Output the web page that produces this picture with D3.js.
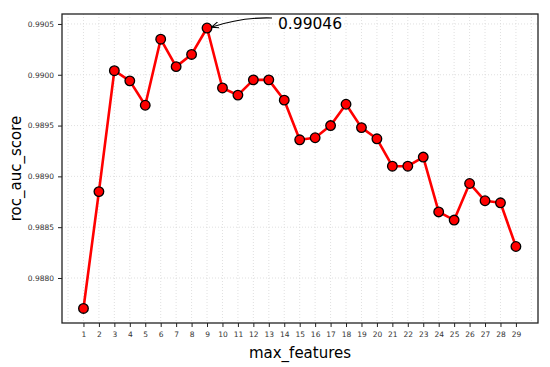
<!DOCTYPE html>
<html><head><meta charset="utf-8">
<script src="https://cdn.jsdelivr.net/npm/d3@7"></script>
<style>body{margin:0;background:#fff;} svg{display:block;}</style>
</head><body>
<script>
const maxFeatures = d3.range(1, 30);
const rocAucScore = [0.98770,0.98885,0.99004,0.98994,0.98970,0.99035,0.99008,0.99020,0.99046,0.98987,
  0.98980,0.98995,0.98995,0.98975,0.98936,0.98938,0.98950,0.98971,0.98948,0.98937,
  0.98910,0.98910,0.98919,0.98865,0.98857,0.98893,0.98876,0.98874,0.98831];
const yTicks = [0.9880,0.9885,0.9890,0.9895,0.9900,0.9905];
const annotationText = "0.99046";

const W=550,H=367;
const L=62,R=538,T=14,B=323;
const svg=d3.select("body").append("svg").attr("width",W).attr("height",H);
const x=d3.scaleLinear().domain([-0.39,30.43]).range([L,R]);
const y=d3.scaleLinear().domain([0.987557,0.990598]).range([B,T]);

// grid
const g=svg.append("g");
g.selectAll(".vg").data(d3.range(0,31)).enter().append("line")
 .attr("x1",d=>x(d)).attr("x2",d=>x(d)).attr("y1",T).attr("y2",B)
 .attr("stroke","#d8d8d8").attr("stroke-width",0.8).attr("stroke-dasharray","1,2");
g.selectAll(".hg").data(yTicks).enter().append("line")
 .attr("x1",L).attr("x2",R).attr("y1",d=>y(d)).attr("y2",d=>y(d))
 .attr("stroke","#d8d8d8").attr("stroke-width",0.8).attr("stroke-dasharray","1,2");

// axes
const xa=svg.append("g").attr("transform",`translate(0,${B})`)
 .call(d3.axisBottom(x).tickValues(maxFeatures).tickFormat(d3.format("d")).tickSize(4).tickPadding(5));
const ya=svg.append("g").attr("transform",`translate(${L},0)`)
 .call(d3.axisLeft(y).tickValues(yTicks).tickFormat(d3.format(".4f")).tickSize(4).tickPadding(4));
[xa,ya].forEach(a=>{a.select(".domain").remove();
 a.selectAll("text").attr("font-family","DejaVu Sans").attr("font-size",7.5).attr("fill","#333");
 a.selectAll("line").attr("stroke","#222").attr("stroke-width",1);});

// frame
svg.append("rect").attr("x",L).attr("y",T).attr("width",R-L).attr("height",B-T)
 .attr("fill","none").attr("stroke","#222").attr("stroke-width",1.3);

// line
const data=maxFeatures.map((d,i)=>[d,rocAucScore[i]]);
svg.append("path").datum(data).attr("fill","none").attr("stroke","#ff0000").attr("stroke-width",2.6)
 .attr("stroke-linejoin","round")
 .attr("d",d3.line().x(d=>x(d[0])).y(d=>y(d[1])));
svg.selectAll(".pt").data(data).enter().append("circle")
 .attr("cx",d=>x(d[0])).attr("cy",d=>y(d[1])).attr("r",4.8)
 .attr("fill","#ff0000").attr("stroke","#000").attr("stroke-width",1.3);

// annotation
const best=data[8];
const px=x(best[0]), py=y(best[1]);
const sx=272, sy=18;
svg.append("defs").append("marker").attr("id","ah").attr("viewBox","0 0 10 10")
 .attr("refX",9).attr("refY",5).attr("markerWidth",7).attr("markerHeight",7).attr("orient","auto")
 .append("path").attr("d","M0,1 L10,5 L0,9").attr("fill","none").attr("stroke","#000").attr("stroke-width",1.4);
svg.append("path").attr("d",`M${sx},${sy} Q${(sx+px)/2+2},${sy-1} ${px+5},${py-1}`)
 .attr("fill","none").attr("stroke","#000").attr("stroke-width",1.1).attr("marker-end","url(#ah)");
svg.append("text").attr("x",278).attr("y",29).text(annotationText)
 .attr("font-family","DejaVu Sans").attr("font-size",15.5).attr("fill","#000");

// labels
svg.append("text").attr("x",(L+R)/2).attr("y",358).attr("text-anchor","middle")
 .attr("font-family","DejaVu Sans").attr("font-size",15).text("max_features");
svg.append("text").attr("transform",`translate(21,${(T+B)/2}) rotate(-90)`).attr("text-anchor","middle")
 .attr("font-family","DejaVu Sans").attr("font-size",15).text("roc_auc_score");
</script>
</body></html>
